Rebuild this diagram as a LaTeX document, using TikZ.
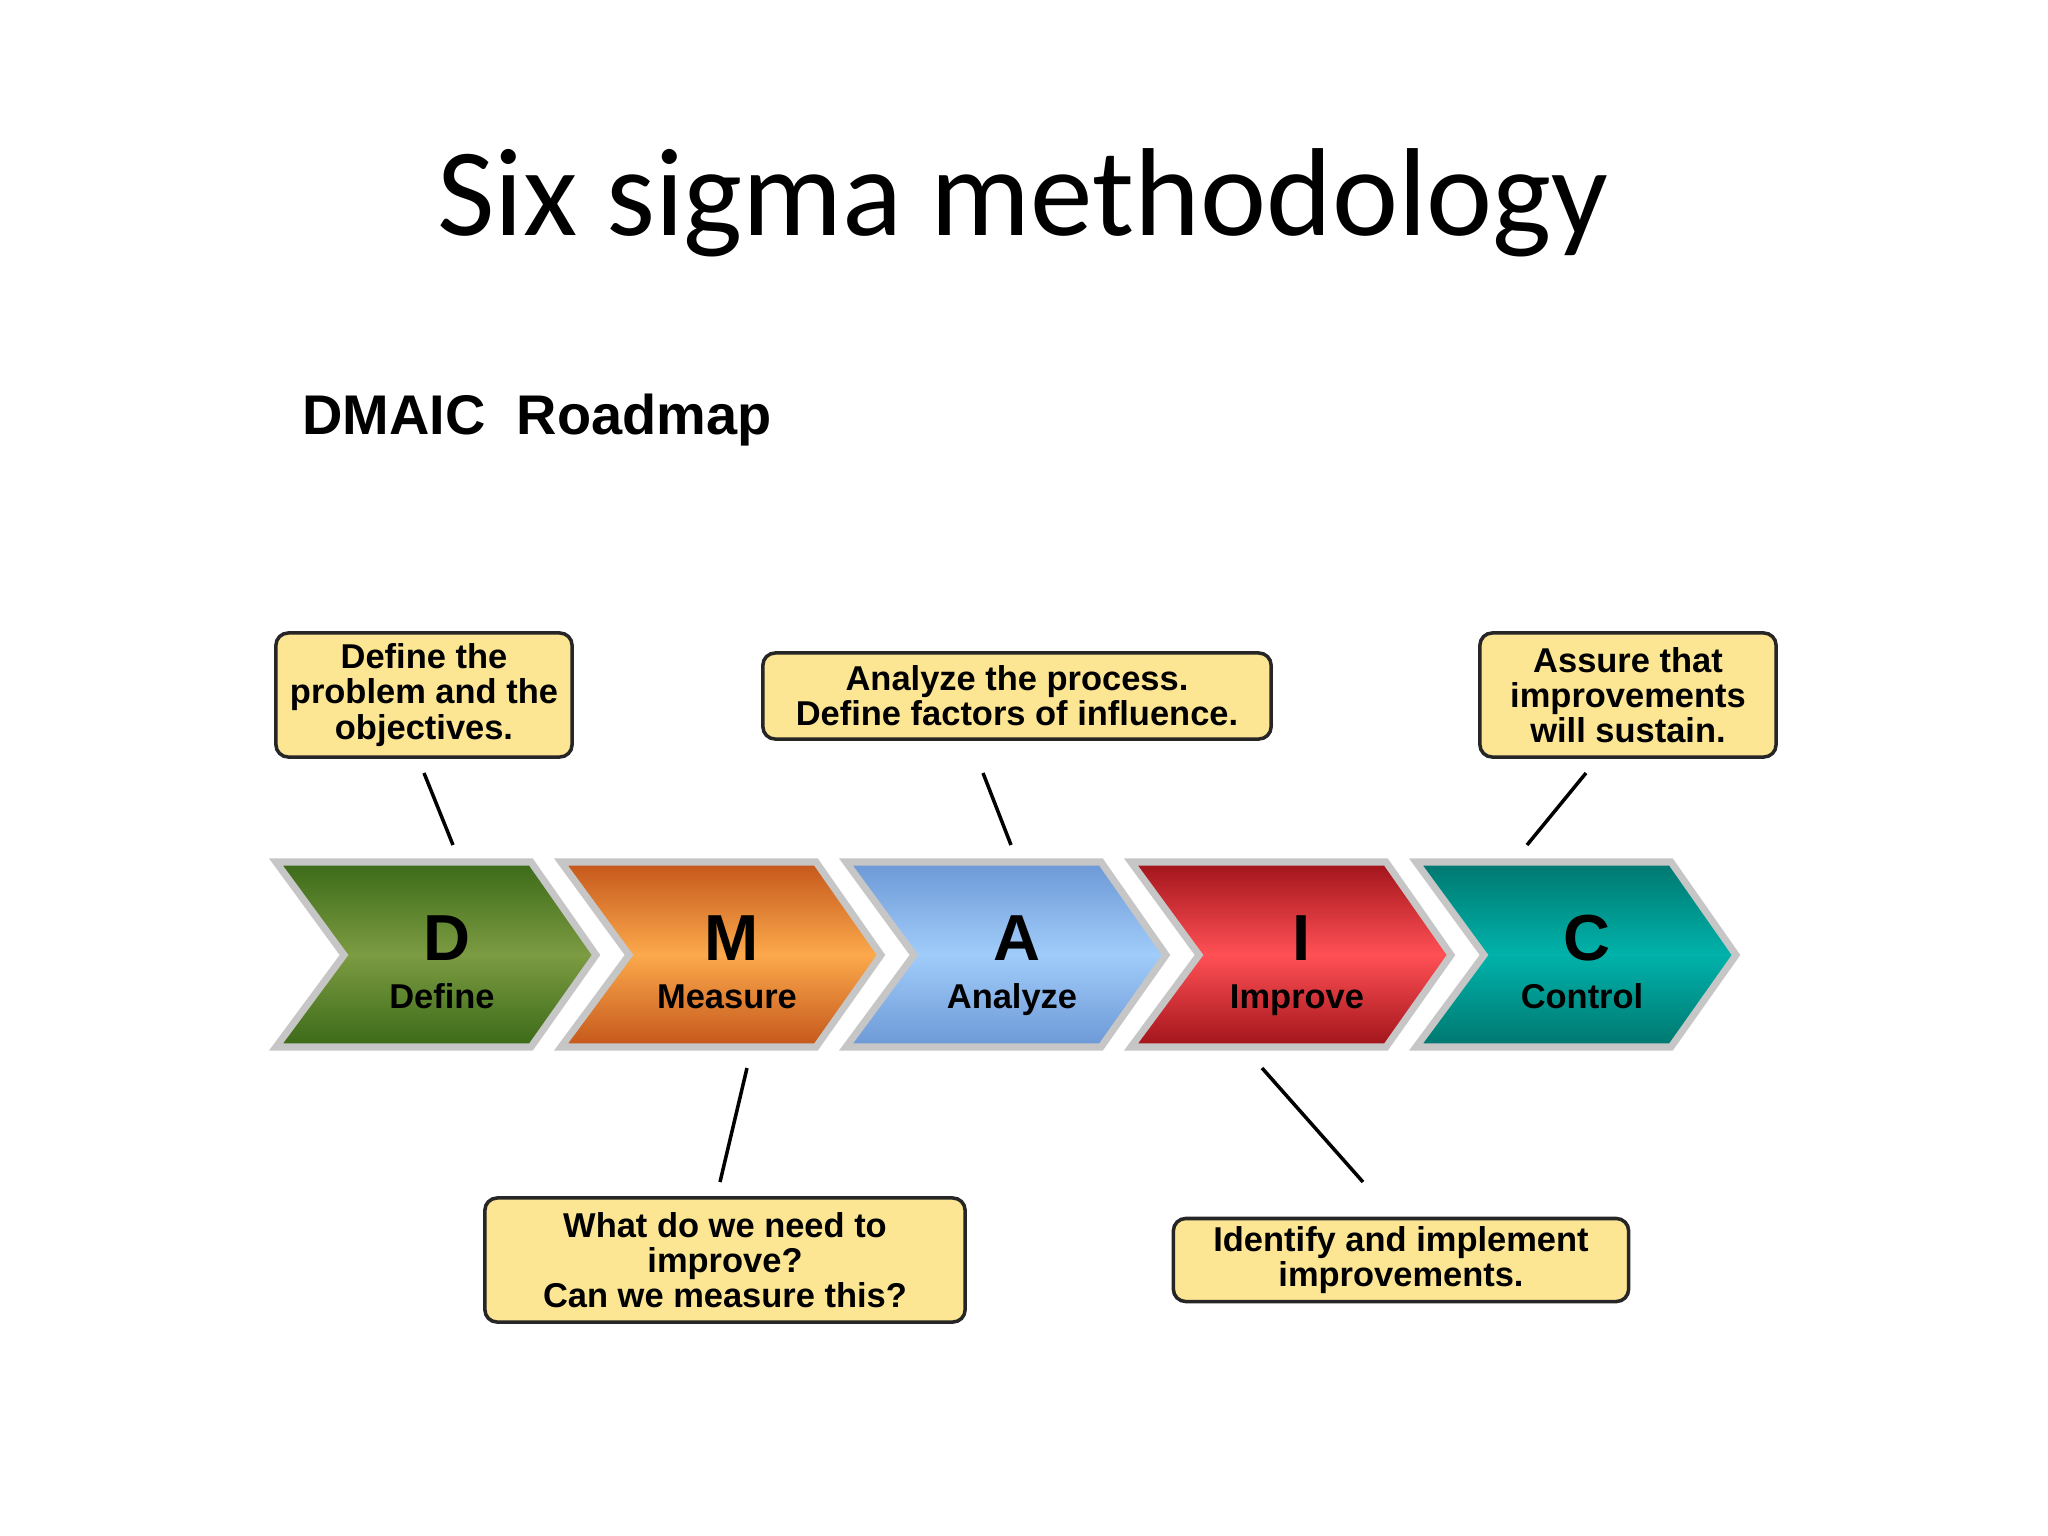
\documentclass[tikz,border=0pt]{standalone}
\usepackage{fontspec}
\setmainfont{Liberation Sans}
\newfontfamily\titlefont{Carlito}
\usetikzlibrary{positioning}

\definecolor{defTop}{HTML}{3B6A18}
\definecolor{defMid}{HTML}{7C9B42}
\definecolor{meaTop}{HTML}{C4561A}
\definecolor{meaMid}{HTML}{FBA94C}
\definecolor{anaTop}{HTML}{6C98D6}
\definecolor{anaMid}{HTML}{A0CCFA}
\definecolor{impTop}{HTML}{A0141A}
\definecolor{impMid}{HTML}{FF5055}
\definecolor{conTop}{HTML}{00776F}
\definecolor{conMid}{HTML}{00B2AA}
\definecolor{noteFill}{HTML}{FCE593}

\begin{document}
\begin{tikzpicture}[
		x=0.01cm, y=-0.01cm,
		chev/.style={draw=gray!45, line width=2pt, line join=miter},
		letter/.style={font=\fontsize{18.5}{20}\selectfont\bfseries, anchor=base},
		word/.style={font=\fontsize{9.8}{10}\selectfont\bfseries, anchor=base},
		note/.style={draw=black!85, line width=1pt, fill=noteFill, rounded corners=3.5pt,
			align=center, inner sep=1pt, font=\fontsize{9.8}{10}\selectfont\bfseries},
		link/.style={black, line width=1pt}
		]
		
		% Page frame
		\useasboundingbox (0,0) rectangle (2048,1536);
		
		% Headings
		\node[anchor=base, font=\titlefont\fontsize{35.6}{40}\selectfont] (title) at (1023,235) {Six sigma methodology};
		\node[anchor=base west, font=\fontsize{15.9}{18}\selectfont\bfseries] (road) at (290,434) {DMAIC\ \ Roadmap};
		
		% The five DMAIC chevrons
		\foreach \x/\ltr/\word/\col [count=\i] in {272/D/Define/def, 557/M/Measure/mea, 842/A/Analyze/ana, 1127/I/Improve/imp, 1412/C/Control/con} {
			\path[chev, top color=\col Top, bottom color=\col Top, middle color=\col Mid]
				(\x+4,862) -- (\x+259,862) -- (\x+324,955) -- (\x+259,1047) -- (\x+4,1047) -- (\x+72,955) -- cycle;
			\node[letter] (ltr\i) at (\x+175,960) {\ltr};
			\node[word] (wrd\i) at (\x+170,1008) {\word};
		}
		
		% Callouts above
		\node[note, minimum width=2.96cm, minimum height=1.24cm] (noteD) at (424,695) {Define the\\problem and the\\objectives.};
		\node[note, minimum width=5.08cm, minimum height=0.86cm] (noteA) at (1017,696) {Analyze the process.\\Define factors of influence.};
		\node[note, minimum width=2.96cm, minimum height=1.24cm] (noteC) at (1628,695) {Assure that\\improvements\\will sustain.};
		
		% Callouts below
		\node[note, minimum width=4.80cm, minimum height=1.24cm] (noteM) at (725,1260) {What do we need to\\improve?\\Can we measure this?};
		\node[note, minimum width=4.55cm, minimum height=0.83cm] (noteI) at (1401,1260) {Identify and implement\\improvements.};
		
		% Leader lines (free ends)
		\coordinate (dUp) at (424,773);  \coordinate (dLo) at (453,845);
		\coordinate (aUp) at (983,773);  \coordinate (aLo) at (1011,845);
		\coordinate (cUp) at (1586,773); \coordinate (cLo) at (1527,845);
		\coordinate (mUp) at (747,1068); \coordinate (mLo) at (720,1182);
		\coordinate (iUp) at (1262,1068); \coordinate (iLo) at (1363,1182);
		\draw[link] (dUp) -- (dLo);
		\draw[link] (aUp) -- (aLo);
		\draw[link] (cUp) -- (cLo);
		\draw[link] (mUp) -- (mLo);
		\draw[link] (iUp) -- (iLo);
		
	\end{tikzpicture}
\end{document}
